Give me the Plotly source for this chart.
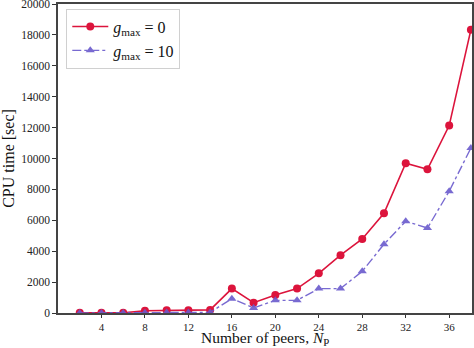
import plotly.graph_objects as go

peers = [2, 4, 6, 8, 10, 12, 14, 16, 18, 20, 22, 24, 26, 28, 30, 32, 34, 36, 38]
cpu_g0 = [10, 10, 10, 150, 170, 170, 200, 1580, 670, 1170, 1580, 2570, 3740, 4790, 6450, 9690, 9300, 12130, 18340]
cpu_g10 = [5, 5, 5, 20, 30, 30, 40, 930, 330, 820, 820, 1580, 1580, 2700, 4450, 5940, 5500, 7880, 10680]
x_ticks = [4, 8, 12, 16, 20, 24, 28, 32, 36]
y_ticks = [0, 2000, 4000, 6000, 8000, 10000, 12000, 14000, 16000, 18000, 20000]

font = "Liberation Serif, DejaVu Serif, serif"

fig = go.Figure()
fig.add_trace(go.Scatter(
    x=peers, y=cpu_g0, mode="lines+markers", name="<i>g</i><sub>max</sub> = 0",
    line=dict(color="#DC143C", width=1.6),
    marker=dict(symbol="circle", size=8, color="#DC143C"),
))
fig.add_trace(go.Scatter(
    x=peers, y=cpu_g10, mode="lines+markers", name="<i>g</i><sub>max</sub> = 10",
    line=dict(color="#6A5ACD", width=1.4, dash="dashdot"),
    marker=dict(symbol="triangle-up", size=8, color="#6A5ACD"),
    opacity=0.9,
))

fig.add_annotation(
    text="Number of peers, <i>N</i><sub>P</sub>", xref="paper", yref="paper",
    x=0.5, y=0, xanchor="center", yanchor="top", yshift=-14, showarrow=False,
    font=dict(family=font, size=15.5, color="#111"),
)

fig.update_layout(
    width=474, height=348,
    margin=dict(l=58, r=2, t=4, b=35, autoexpand=False),
    paper_bgcolor="white", plot_bgcolor="white",
    font=dict(family=font, size=12, color="#222"),
    showlegend=True,
    legend=dict(
        x=0.02, y=0.985, xanchor="left", yanchor="top",
        bgcolor="rgba(255,255,255,0.9)", bordercolor="#d0d0d0", borderwidth=1,
        font=dict(family=font, size=16, color="#111"),
        tracegroupgap=0, itemwidth=36,
    ),
    xaxis=dict(
        range=[0, 38.1], tickvals=x_ticks, ticks="outside", ticklen=3, tickwidth=1,
        tickcolor="#333", showline=True, linecolor="#444", linewidth=1.5, mirror=True,
        showgrid=False, zeroline=False,
        tickfont=dict(family=font, size=11, color="#222"),
        automargin=False,
    ),
    yaxis=dict(
        range=[0, 20000], tickvals=y_ticks, tickformat="d", ticks="outside", ticklen=4, tickwidth=1,
        tickcolor="#333", showline=True, linecolor="#444", linewidth=1.5, mirror=True,
        showgrid=False, zeroline=False, ticklabeloverflow="allow",
        tickfont=dict(family=font, size=11.5, color="#222"),
        title=dict(text="CPU time [sec]", font=dict(family=font, size=16, color="#111"), standoff=4),
        automargin=False,
    ),
)

fig.write_html("out.html")
